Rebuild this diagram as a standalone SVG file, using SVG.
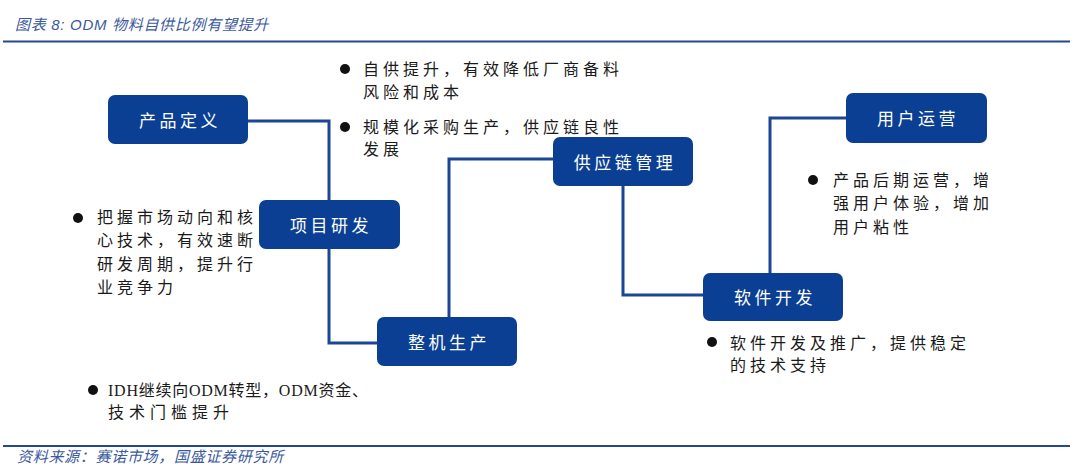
<svg xmlns="http://www.w3.org/2000/svg" width="1080" height="474" viewBox="0 0 1080 474">
  <defs>
    <style>
      .hdr { font-family: "Liberation Sans", "Noto Sans CJK SC", sans-serif; font-style: italic; font-size: 15px; fill: #3b5a9c; letter-spacing: 0.7px; }
      .rule { stroke: #24498e; stroke-width: 2; fill: none; }
      .box { fill: #0b3f93; }
      .lbl { font-family: "Liberation Serif", "Noto Sans CJK SC", sans-serif; font-size: 17px; fill: #ffffff; letter-spacing: 3.5px; text-anchor: middle; }
      .conn { stroke: #1c4693; stroke-width: 3; fill: none; stroke-linejoin: miter; }
      .txt { font-family: "Liberation Serif", "Noto Sans CJK SC", serif; font-size: 16px; fill: #1a1a1a; letter-spacing: 4px; }
      .dot { fill: #111111; }
    </style>
  </defs>
  <rect x="0" y="0" width="1080" height="474" fill="#ffffff"/>

  <!-- header / footer -->
  <text class="hdr" x="15" y="30">图表 8: ODM 物料自供比例有望提升</text>
  <line class="rule" x1="3" y1="41.5" x2="1070" y2="41.5"/>
  <line class="rule" x1="3" y1="446" x2="1070" y2="446"/>
  <text class="hdr" x="17" y="462">资料来源：赛诺市场，国盛证券研究所</text>

  <!-- connectors -->
  <g id="connectors">
    <path class="conn" d="M248,121 H329 V343 H377"/>
    <path class="conn" d="M449,317 V159 H553"/>
    <path class="conn" d="M623,186 V295 H703"/>
    <path class="conn" d="M770,273 V118 H846"/>
  </g>

  <!-- nodes -->
  <g id="node-product-def">
    <rect class="box" x="108" y="95" width="140" height="49" rx="7"/>
    <text class="lbl" x="180" y="127">产品定义</text>
  </g>
  <g id="node-project-rd">
    <rect class="box" x="259" y="200" width="141" height="49" rx="7"/>
    <text class="lbl" x="331" y="232">项目研发</text>
  </g>
  <g id="node-assembly">
    <rect class="box" x="377" y="317" width="140" height="49" rx="7"/>
    <text class="lbl" x="449" y="349">整机生产</text>
  </g>
  <g id="node-supply-chain">
    <rect class="box" x="553" y="137" width="140" height="49" rx="7"/>
    <text class="lbl" x="625" y="169">供应链管理</text>
  </g>
  <g id="node-software">
    <rect class="box" x="703" y="273" width="140" height="48" rx="7"/>
    <text class="lbl" x="775" y="304">软件开发</text>
  </g>
  <g id="node-user-ops">
    <rect class="box" x="846" y="93" width="141" height="50" rx="7"/>
    <text class="lbl" x="918" y="125">用户运营</text>
  </g>

  <!-- notes -->
  <g id="note-supply">
    <circle class="dot" cx="345" cy="69" r="5"/>
    <text class="txt" x="363" y="75">自供提升，有效降低厂商备料</text>
    <text class="txt" x="363" y="98">风险和成本</text>
    <circle class="dot" cx="345" cy="127" r="5"/>
    <text class="txt" x="363" y="133">规模化采购生产，供应链良性</text>
    <text class="txt" x="363" y="155">发展</text>
  </g>
  <g id="note-rd">
    <circle class="dot" cx="78" cy="218" r="5"/>
    <text class="txt" x="97" y="223">把握市场动向和核</text>
    <text class="txt" x="97" y="246">心技术，有效速断</text>
    <text class="txt" x="97" y="270">研发周期，提升行</text>
    <text class="txt" x="97" y="293">业竞争力</text>
  </g>
  <g id="note-user">
    <circle class="dot" cx="813" cy="180" r="5"/>
    <text class="txt" x="833" y="186">产品后期运营，增</text>
    <text class="txt" x="833" y="209">强用户体验，增加</text>
    <text class="txt" x="833" y="233">用户粘性</text>
  </g>
  <g id="note-software">
    <circle class="dot" cx="712" cy="342" r="5"/>
    <text class="txt" x="730" y="349">软件开发及推广，提供稳定</text>
    <text class="txt" x="730" y="371">的技术支持</text>
  </g>
  <g id="note-assembly">
    <circle class="dot" cx="93" cy="390" r="5"/>
    <text class="txt" x="108" y="396" textLength="260" lengthAdjust="spacing" style="letter-spacing:0">IDH继续向ODM转型，ODM资金、</text>
    <text class="txt" x="108" y="418" style="letter-spacing:5px">技术门槛提升</text>
  </g>
</svg>
